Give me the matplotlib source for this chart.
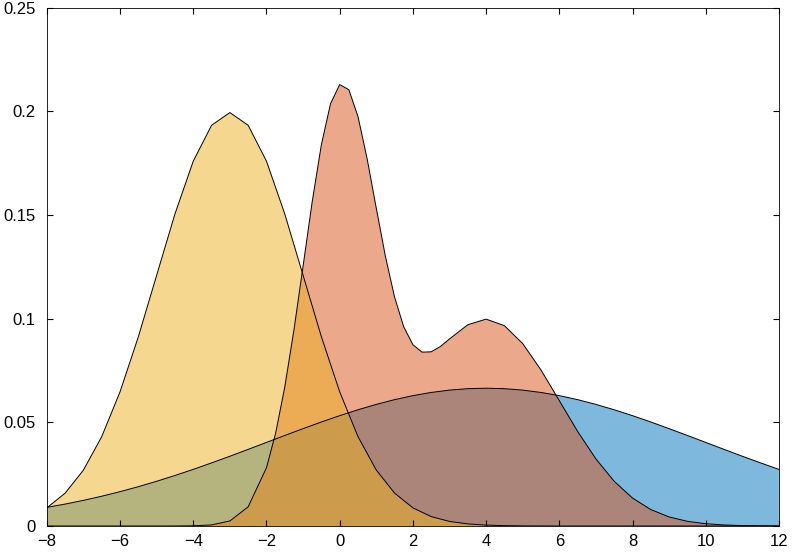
import numpy as np
import matplotlib.pyplot as plt
from matplotlib.ticker import FormatStrFormatter

plt.rcParams['font.family'] = ['Liberation Sans', 'DejaVu Sans']

# valores, paso 0.5 en x
x = np.arange(-8, 12.01, 0.5)

azul = [0.00900, 0.01059, 0.01238, 0.01438, 0.01658, 0.01898, 0.02159, 0.02438,
        0.02733, 0.03045, 0.03366, 0.03698, 0.04033, 0.04368, 0.04698, 0.05019,
        0.05324, 0.05609, 0.05868, 0.06097, 0.06290, 0.06444, 0.06557, 0.06626,
        0.06649, 0.06626, 0.06557, 0.06444, 0.06290, 0.06097, 0.05868, 0.05609,
        0.05324, 0.05019, 0.04698, 0.04368, 0.04033, 0.03698, 0.03366, 0.03045,
        0.02733]

rojo = [0, 0, 0, 0, 0, 0, 0, 0.00002, 0.0001, 0.00053, 0.00244, 0.00927,
        0.02811, 0.06703, 0.12536, 0.18397, 0.21297, 0.19760, 0.15336, 0.11042,
        0.08749, 0.08404, 0.09024, 0.09711, 0.09981, 0.09667, 0.08802, 0.07528,
        0.06049, 0.04566, 0.03238, 0.02157, 0.01350, 0.00794, 0.00438, 0.00227,
        0.00111, 0.00051, 0.00022, 0.00009, 0.00003]

# puntos extra del pico rojo (mitad de paso)
x_extra = [-1.75, -1.25, -0.75, -0.25, 0.25, 0.75, 1.25, 1.75, 2.25, 2.75]
rojo_extra = [0.04475, 0.09450, 0.15651, 0.20376, 0.21052, 0.17720, 0.13008,
              0.09611, 0.08389, 0.08660]

amarillo = [0.00876, 0.01587, 0.02700, 0.04315, 0.06476, 0.09132, 0.12098, 0.15056,
            0.17603, 0.19333, 0.19947, 0.19333, 0.17603, 0.15056, 0.12098, 0.09132,
            0.06476, 0.04315, 0.02700, 0.01587, 0.00876, 0.00455, 0.00222, 0.00102,
            0.00044, 0.00018, 0.00007, 0.00002, 0, 0, 0, 0, 0, 0, 0, 0, 0, 0, 0, 0, 0]

xr = np.concatenate([x, x_extra])
yr = np.concatenate([rojo, rojo_extra])
orden = np.argsort(xr)
xr, yr = xr[orden], yr[orden]

series = [(x, azul, '#0072BD'), (xr, yr, '#D95319'), (x, amarillo, '#EDB120')]

fig = plt.figure(figsize=(7.94, 5.59), dpi=100)
ax = fig.add_axes([0.059, 0.059, 0.922, 0.927])
for xs, y, c in series:
    ax.fill_between(xs, y, 0, facecolor=c, alpha=0.5, edgecolor='none')
    ax.plot(xs, y, color='black', lw=0.7)

ax.set_xlim(-8, 12)
ax.set_ylim(0, 0.25)
ax.set_xticks(np.arange(-8, 13, 2))
ax.set_yticks(np.arange(0, 0.26, 0.05))
ax.yaxis.set_major_formatter(FormatStrFormatter('%g'))
ax.tick_params(direction='in', top=True, right=True, labelsize=12, length=4)
ax.tick_params(axis='y', pad=8)
ax.tick_params(axis='x', pad=6)
for s in ax.spines.values():
    s.set_linewidth(0.6)

plt.savefig('out.png')
